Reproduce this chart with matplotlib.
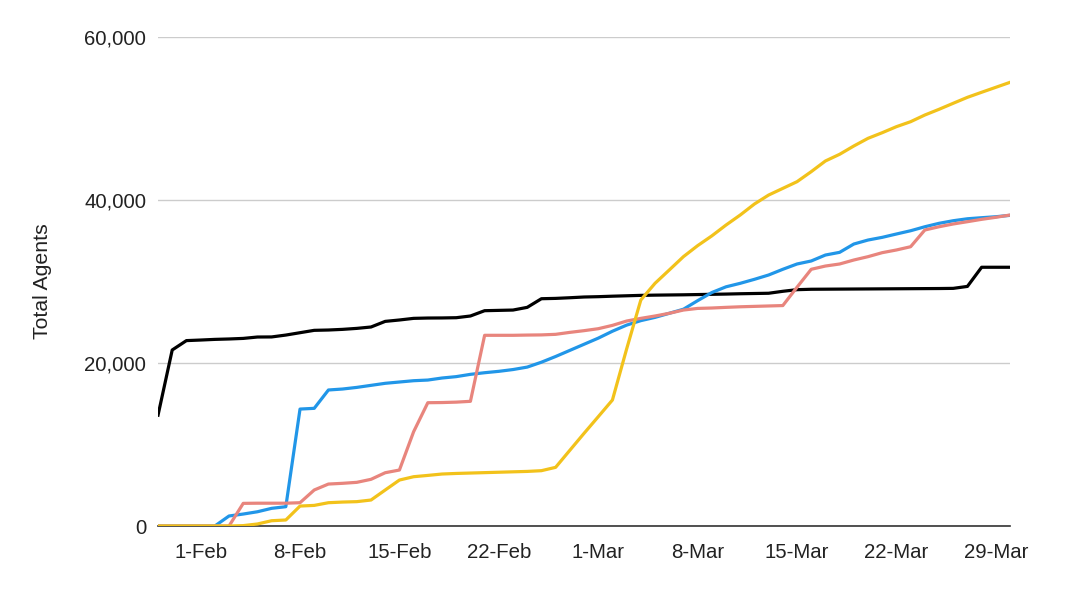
import datetime as dt
import matplotlib
matplotlib.use('Agg')
import matplotlib.pyplot as plt

start = dt.date(2021, 1, 29)
days = [start + dt.timedelta(days=i) for i in range(61)]

black_vals = [13600, 21600, 22750, 22820, 22900, 22950, 23020, 23190, 23200, 23430,
              23720, 24010, 24050, 24130, 24250, 24420, 25110, 25280, 25480, 25520,
              25530, 25560, 25770, 26420, 26460, 26500, 26830, 27890, 27930, 28010,
              28100, 28140, 28200, 28250, 28300, 28330, 28350, 28370, 28400, 28430,
              28460, 28500, 28530, 28560, 28800, 29000, 29050, 29060, 29070, 29080,
              29090, 29100, 29110, 29120, 29130, 29140, 29160, 29400, 31750, 31750,
              31750]
blue_vals = [0, 0, 0, 0, 0, 1230, 1470, 1750, 2170, 2370,
             14350, 14440, 16690, 16810, 17010, 17260, 17510, 17670, 17830, 17910,
             18160, 18330, 18610, 18810, 18980, 19200, 19500, 20100, 20800, 21550,
             22300, 23050, 23900, 24650, 25200, 25600, 26100, 26600, 27650, 28650,
             29350, 29780, 30270, 30800, 31500, 32150, 32520, 33250, 33580, 34600,
             35090, 35420, 35830, 36230, 36720, 37140, 37460, 37700, 37830, 37950,
             38120]
red_vals = [0, 0, 0, 0, 0, 0, 2780, 2800, 2800, 2800,
            2860, 4420, 5150, 5240, 5360, 5730, 6540, 6870, 11570, 15130,
            15150, 15200, 15300, 23400, 23400, 23400, 23430, 23450, 23520, 23760,
            23970, 24210, 24620, 25150, 25480, 25770, 26100, 26500, 26700, 26750,
            26830, 26900, 26950, 27000, 27050, 29300, 31500, 31900, 32150, 32640,
            33050, 33540, 33870, 34270, 36320, 36720, 37060, 37340, 37630, 37880,
            38160]
yellow_vals = [0, 0, 0, 0, 0, 0, 50, 250, 650, 740,
               2450, 2530, 2860, 2940, 2990, 3190, 4420, 5640, 6050, 6210,
               6380, 6450, 6500, 6550, 6600, 6650, 6700, 6790, 7200, 9290,
               11370, 13410, 15460, 21720, 27730, 29780, 31410, 33050, 34400, 35600,
               36930, 38160, 39510, 40610, 41430, 42250, 43480, 44790, 45610, 46630,
               47570, 48260, 49000, 49610, 50430, 51130, 51870, 52600, 53220, 53830,
               54440]

y_ticks = [0, 20000, 40000, 60000]
tick_dates = [dt.date(2021, 2, 1) + dt.timedelta(days=7 * k) for k in range(9)]

plt.rcParams['font.family'] = ['Liberation Sans', 'DejaVu Sans']

fig = plt.figure(figsize=(10.67, 6), dpi=100)
ax = fig.add_axes([0.1481, 0.1233, 0.7985, 0.815])

ax.plot(days, black_vals, color='#000000', lw=2.3, solid_joinstyle='round')
ax.plot(days, blue_vals, color='#2196e8', lw=2.3, solid_joinstyle='round')
ax.plot(days, red_vals, color='#e8857d', lw=2.3, solid_joinstyle='round')
ax.plot(days, yellow_vals, color='#f2c21b', lw=2.3, solid_joinstyle='round')

ax.set_xlim(days[0], days[-1])
ax.set_ylim(0, 60000)
ax.set_yticks(y_ticks)
ax.set_yticklabels([f'{v:,}' for v in y_ticks])
ax.set_xticks(tick_dates)
ax.set_xticklabels([f'{d.day}-{d:%b}' for d in tick_dates])

ax.grid(axis='y', color='#cccccc', lw=1)
ax.set_axisbelow(True)
for s in ['top', 'right', 'left']:
    ax.spines[s].set_visible(False)
ax.spines['bottom'].set_color('#333333')
ax.spines['bottom'].set_linewidth(1.2)
ax.spines['bottom'].set_zorder(1)
ax.tick_params(axis='both', length=0, labelsize=14.7, colors='#222222')
ax.tick_params(axis='y', pad=8.6)
ax.tick_params(axis='x', pad=12.5)

ax.set_ylabel('Total Agents', fontsize=15.3, color='#222222', labelpad=23)

fig.savefig('out.png', dpi=100, facecolor='white')
